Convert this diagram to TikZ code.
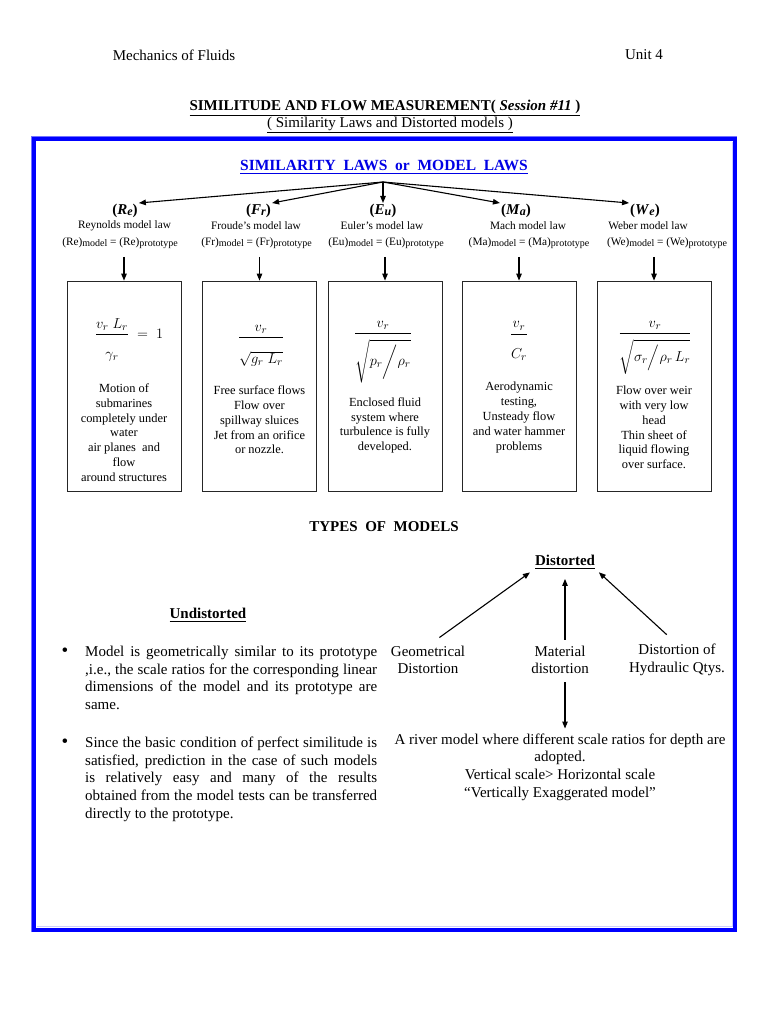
\documentclass[tikz,border=0pt]{standalone}
\usepackage{amsmath}
\usepackage{fontspec}
\setmainfont{Liberation Serif}
\usetikzlibrary{positioning, arrows.meta}

\newcommand{\lowsub}[1]{\raisebox{-1.5pt}{\fontsize{10}{12}\selectfont #1}}
\newcommand{\lawsymb}[2]{(\textit{#1}\raisebox{-1pt}{\fontsize{12}{14}\selectfont\textit{#2}})}

\begin{document}
\begin{tikzpicture}[
  x=1pt, y=-1pt,
  header/.style={font=\fontsize{15}{17.6}\selectfont, inner sep=0pt},
  heading/.style={font=\fontsize{15}{17.6}\selectfont\bfseries, inner sep=0pt},
  lawsym/.style={font=\fontsize{15}{18}\selectfont\bfseries, inner sep=1pt},
  lawname/.style={font=\fontsize{11.3}{13}\selectfont, inner sep=1pt},
  lawbox/.style={draw=black!85, line width=0.8pt, minimum width=114pt, minimum height=210pt},
  usetext/.style={font=\fontsize{12.4}{14.8}\selectfont, align=center, inner sep=0pt},
  formula/.style={font=\fontsize{15.5}{18}\selectfont, inner sep=0pt},
  body/.style={font=\fontsize{15}{17.6}\selectfont, inner sep=0pt},
  arr/.style={-{Triangle[length=7pt,width=5.5pt]}, line width=1.1pt}
]

\useasboundingbox (0,0) rectangle (768,1024);
\fill[white] (0,0) rectangle (768,1024);

% -------------------------
% Page header
% -------------------------

\node[header] (course) at (174,55) {Mechanics of Fluids};
\node[header] (unit) at (644,55) {Unit 4};
\node[heading] (title) at (385,108)
  {\underline{SIMILITUDE AND FLOW MEASUREMENT(\textit{ Session \#11 })}};
\node[header] (subtitle) at (390,125) {\underline{( Similarity Laws and Distorted models )}};

% -------------------------
% Blue frame
% -------------------------

\draw[blue, line width=3.5pt] (34,139) rectangle (735,930);
\draw[blue!55, line width=1pt] (31.2,932) -- (31.2,136.2) -- (737,136.2);
\draw[blue!20, line width=1pt] (37,926.5) -- (732,926.5) -- (732,142);

% -------------------------
% Similarity laws
% -------------------------

\node[heading, font=\fontsize{15.5}{18}\selectfont\bfseries] (simlaws) at (384,167)
  {\textcolor{blue!90!black}{\underline{SIMILARITY\ \ LAWS\ \ or\ \ MODEL\ \ LAWS}}};
\coordinate (hub) at (383,182);

\node[lawsym] (re) at (125,211) {\lawsymb{R}{e}};
\node[lawsym] (fr) at (258.5,211) {\lawsymb{F}{r}};
\node[lawsym] (eu) at (383,211) {\lawsymb{E}{u}};
\node[lawsym] (ma) at (516,211) {\lawsymb{M}{a}};
\node[lawsym] (we) at (645,211) {\lawsymb{W}{e}};

\node[lawname] (nmre) at (124.5,226) {Reynolds model law};
\node[lawname] (nmfr) at (256,226) {Froude’s model law};
\node[lawname] (nmeu) at (382,226) {Euler’s model law};
\node[lawname] (nmma) at (528,226) {Mach model law};
\node[lawname] (nmwe) at (648,226) {Weber model law};

\node[lawname] (eqre) at (120,243) {(Re)\lowsub{model} = (Re)\lowsub{prototype}};
\node[lawname] (eqfr) at (256.5,243) {(Fr)\lowsub{model} = (Fr)\lowsub{prototype}};
\node[lawname] (equ) at (386,243) {(Eu)\lowsub{model} = (Eu)\lowsub{prototype}};
\node[lawname] (eqma) at (529,243) {(Ma)\lowsub{model} = (Ma)\lowsub{prototype}};
\node[lawname] (eqwe) at (667,243) {(We)\lowsub{model} = (We)\lowsub{prototype}};

\draw[arr] (hub) -- (re.north east);
\draw[arr] (hub) -- (fr.north east);
\draw[arr] (hub) -- (eu.north);
\draw[arr] (hub) -- (ma.north west);
\draw[arr] (hub) -- (we.north west);

% -------------------------
% Boxes with ratios and uses
% -------------------------

\node[lawbox] (boxre) at (124,386) {};
\node[lawbox] (boxfr) at (259.5,386) {};
\node[lawbox] (boxeu) at (385,386) {};
\node[lawbox] (boxma) at (519,386) {};
\node[lawbox] (boxwe) at (654,386) {};

\draw[arr, shorten <=7pt] (boxre.north |- eqre.south) -- (boxre.north);
\draw[arr, shorten <=7pt] (boxfr.north |- eqfr.south) -- (boxfr.north);
\draw[arr, shorten <=7pt] (boxeu.north |- equ.south) -- (boxeu.north);
\draw[arr, shorten <=7pt] (boxma.north |- eqma.south) -- (boxma.north);
\draw[arr, shorten <=7pt] (boxwe.north |- eqwe.south) -- (boxwe.north);

\node[formula] (fre) at (129,340) {$\dfrac{v_r\;L_r}{\rule{0pt}{22pt}\gamma_r}\;=\;1$};
\node[formula] (ffr) at (261,346) {$\dfrac{v_r}{\rule{0pt}{24pt}\sqrt{g_r\;L_r}}$};
\node[formula] (feu) at (383,352) {$\dfrac{v_r}{\rule{0pt}{30pt}\sqrt{p_r\bigg/\rho_r}}$};
\node[formula] (fma) at (519,341) {$\dfrac{v_r}{\rule{0pt}{22pt}C_r}$};
\node[formula] (fwe) at (655,348) {$\dfrac{v_r}{\rule{0pt}{26pt}\sqrt{\sigma_r\Big/\rho_r\,L_r}}$};

\node[usetext] (ure) at (124,432.5) {Motion of\\ submarines\\ completely under\\ water\\ air planes\ \ and\\ flow\\ around structures};
\node[usetext] (ufr) at (259.5,420) {Free surface flows\\ Flow over\\ spillway sluices\\ Jet from an orifice\\ or nozzle.};
\node[usetext] (ueu) at (385,425.5) {Enclosed fluid\\ system where\\ turbulence is fully\\ developed.};
\node[usetext] (uma) at (519,417.5) {Aerodynamic\\ testing,\\ Unsteady flow\\ and water hammer\\ problems};
\node[usetext] (uwe) at (654,427.5) {Flow over weir\\ with very low\\ head\\ Thin sheet of\\ liquid flowing\\ over surface.};

% -------------------------
% Types of models
% -------------------------

\node[heading] (types) at (384,527) {TYPES\ \ OF\ \ MODELS};
\node[heading] (dist) at (565,562) {\underline{Distorted}};
\node[heading] (undist) at (208,615) {\underline{Undistorted}};

\node[body, align=center] (geo) at (428,660) {Geometrical\\ Distortion};
\node[body, align=center] (mat) at (560,660) {Material\\ distortion};
\node[body, align=center] (hyd) at (677,660) {Distortion of\\ Hydraulic Qtys.};
\node[body, align=center] (river) at (560,767)
  {A river model where different scale ratios for depth are\\ adopted.\\
   Vertical scale> Horizontal scale\\ “Vertically Exaggerated model”};

\draw[arr, shorten <=14pt, shorten >=6pt] (geo.north) -- (dist.south west);
\draw[arr, shorten <=6pt, shorten >=10pt] (dist.south |- mat.north) -- (dist.south);
\draw[arr, shorten <=14pt, shorten >=5pt] (hyd.north) -- (dist.south east);
\draw[arr, shorten <=8pt, shorten >=5pt] (dist.south |- mat.south) -- (dist.south |- river.north);

% Undistorted bullets
\node[body, font=\fontsize{19}{20}\selectfont] (dot1) at (65,652) {\textbullet};
\node[body, font=\fontsize{19}{20}\selectfont] (dot2) at (65,743) {\textbullet};
\node[body, anchor=north west, text width=292pt, align=justify] (bul1) at (85,646)
  {Model is geometrically similar to its prototype\linebreak
   ,i.e., the scale ratios for the corresponding linear\linebreak
   dimensions of the model and its prototype are\linebreak same.};
\node[body, anchor=north west, text width=292pt, align=justify] (bul2) at (85,737)
  {Since the basic condition of perfect similitude is\linebreak
   satisfied, prediction in the case of such models\linebreak
   is relatively easy and many of the results\linebreak
   obtained from the model tests can be transferred\linebreak
   directly to the prototype.};

\end{tikzpicture}
\end{document}
